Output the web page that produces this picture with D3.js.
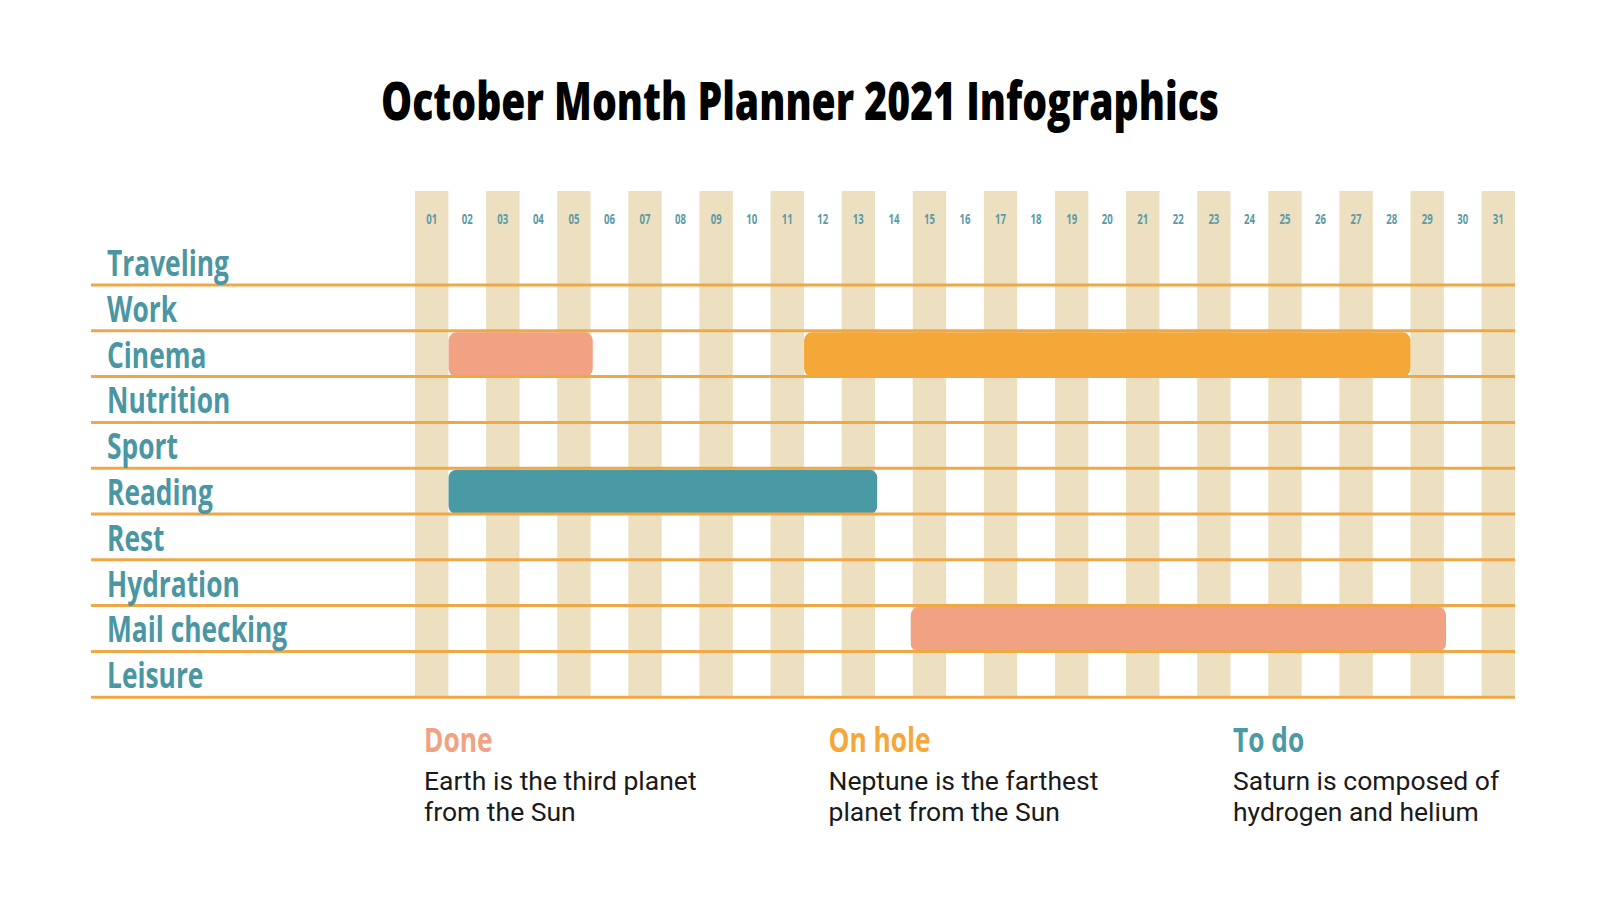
<!DOCTYPE html>
<html>
<head>
<meta charset="utf-8">
<script src="https://cdn.jsdelivr.net/npm/d3@7"></script>
<style>
  body { margin: 0; background: #fff; }
  svg { display: block; }
</style>
</head>
<body>
<div id="planner"></div>
<script>
// data
const title = "October Month Planner 2021 Infographics";
const days = d3.range(1, 32).map((d) => String(d).padStart(2, "0"));
const activities = ["Traveling", "Work", "Cinema", "Nutrition", "Sport", "Reading", "Rest", "Hydration", "Mail checking", "Leisure"];
const taskActivity = ["Cinema", "Cinema", "Reading", "Mail checking"];
const taskStart = ["02", "12", "02", "15"];
const taskEnd = ["05", "28", "13", "29"];
const taskStatus = ["Done", "On hole", "To do", "Done"];
const statusNames = ["Done", "On hole", "To do"];
const statusText = [
	["Earth is the third planet", "from the Sun"],
	["Neptune is the farthest", "planet from the Sun"],
	["Saturn is composed of", "hydrogen and helium"]
];

const width = 1600;
const height = 900;
const headFont = "'Open Sans', 'Noto Sans', sans-serif";

const color = d3.scaleOrdinal()
	.domain(statusNames)
	.range(["#f0a282", "#f5a737", "#4a9aa6"]);

const x = d3.scaleBand()
	.domain(days)
	.range([415, 1515])
	.paddingInner(0.06);

const y = d3.scaleBand()
	.domain(activities)
	.range([239.2, 697.2]);

const svg = d3.select("#planner")
	.append("svg")
	.attr("width", width)
	.attr("height", height);

// squeeze texts horizontally so that a sample text gets the wanted width
function squeeze(sel, sampleNode, wanted, px, py) {
	const k = wanted / sampleNode.getComputedTextLength();
	sel.attr("transform", (d, i) => `translate(${px(d, i)}, ${py(d, i)}) scale(${k}, 1)`);
}

svg.append("text")
	.attr("x", width / 2)
	.attr("y", 120)
	.attr("text-anchor", "middle")
	.attr("font-family", headFont)
	.attr("font-weight", 800)
	.attr("font-size", 53)
	.attr("textLength", 838)
	.attr("lengthAdjust", "spacingAndGlyphs")
	.attr("fill", "#000")
	.text(title);

// shaded odd day columns
svg.append("g")
	.selectAll("rect")
	.data(days.filter((d, i) => i % 2 === 0))
	.join("rect")
	.attr("x", (d) => x(d))
	.attr("y", 191)
	.attr("width", x.bandwidth())
	.attr("height", y.range()[1] - 191)
	.attr("fill", "#ede0c1");

// day labels
const dayLabels = svg.append("g")
	.selectAll("text")
	.data(days)
	.join("text")
	.attr("text-anchor", "middle")
	.attr("font-family", headFont)
	.attr("font-weight", 700)
	.attr("font-size", 14)
	.attr("fill", "#5b9ba5")
	.text((d) => d);
squeeze(dayLabels, dayLabels.node(), 11, (d) => x(d) + x.bandwidth() / 2, () => 224);

// task bars
svg.append("g")
	.selectAll("rect")
	.data(taskActivity.map((a, i) => ({ a: a, s: taskStart[i], e: taskEnd[i], st: taskStatus[i] })))
	.join("rect")
	.attr("x", (d) => x(d.s) - 2)
	.attr("y", (d) => y(d.a) + 1.5)
	.attr("width", (d) => x(d.e) + x.step() - x(d.s) + 2)
	.attr("height", y.bandwidth() - 1.5)
	.attr("rx", 8)
	.attr("fill", (d) => color(d.st));

// row lines
svg.append("g")
	.selectAll("line")
	.data(activities)
	.join("line")
	.attr("x1", 91)
	.attr("x2", 1515)
	.attr("y1", (d) => y(d) + y.bandwidth())
	.attr("y2", (d) => y(d) + y.bandwidth())
	.attr("stroke", "#f0a847")
	.attr("stroke-width", 3);

// row labels
const rowLabels = svg.append("g")
	.selectAll("text")
	.data(activities)
	.join("text")
	.attr("font-family", headFont)
	.attr("font-weight", 700)
	.attr("font-size", 35)
	.attr("fill", "#4b96a3")
	.text((d) => d);
squeeze(rowLabels, rowLabels.node(), 122, () => 107, (d) => y(d) + y.bandwidth() - 9);

// legend
const legend = svg.append("g")
	.selectAll("g")
	.data(statusNames)
	.join("g")
	.attr("transform", (d, i) => `translate(${424 + i * 404.5}, 0)`);

const legendTitles = legend.append("text")
	.attr("font-family", headFont)
	.attr("font-weight", 700)
	.attr("font-size", 33.5)
	.attr("fill", (d) => color(d))
	.text((d) => d);
squeeze(legendTitles, legendTitles.node(), 68.5, () => 0, () => 752);

legend.append("text")
	.attr("font-family", "Roboto, sans-serif")
	.attr("font-size", 26.5)
	.attr("fill", "#1a1a1a")
	.selectAll("tspan")
	.data((d, i) => statusText[i])
	.join("tspan")
	.attr("x", 0)
	.attr("y", (d, i) => 790 + i * 30.5)
	.text((d) => d);
</script>
</body>
</html>
